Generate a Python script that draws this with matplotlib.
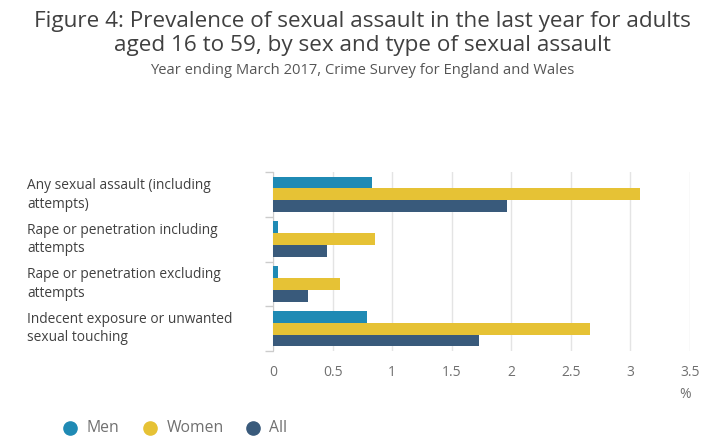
import matplotlib
matplotlib.use("Agg")
import matplotlib.pyplot as plt
import numpy as np
from matplotlib.lines import Line2D

categories = ["Any sexual assault (including\nattempts)",
              "Rape or penetration including\nattempts",
              "Rape or penetration excluding\nattempts",
              "Indecent exposure or unwanted\nsexual touching"]
series_names = ["Men", "Women", "All"]
men = [0.83, 0.04, 0.04, 0.79]
women = [3.08, 0.86, 0.56, 2.66]
all_ = [1.96, 0.45, 0.29, 1.73]
xticks = [0, 0.5, 1, 1.5, 2, 2.5, 3, 3.5]
xtick_labels = ["0", "0.5", "1", "1.5", "2", "2.5", "3", "3.5"]

colors = ["#1f8ab4", "#e6c235", "#395a7b"]
text_col = "#404040"
grey = "#707070"

plt.rcParams['font.family'] = ['Open Sans', 'DejaVu Sans']

fig = plt.figure(figsize=(7.25, 4.41), dpi=100)
W, H = 725, 441
ax = fig.add_axes([273 / W, 1 - 351 / H, (690 - 273) / W, (351 - 172) / H])

n = len(categories)
y = np.arange(n)
bh = 0.265
for i, (vals, c) in enumerate(zip([men, women, all_], colors)):
    ax.barh(y + (i - 1) * bh, vals, height=bh, color=c, zorder=3)

ax.set_xlim(0, 3.5)
ax.set_ylim(n - 0.5, -0.5)
ax.set_xticks(xticks)
ax.set_xticklabels(xtick_labels, color=grey, fontsize=10)
ax.xaxis.grid(True, color="#e4e4e4", lw=1, zorder=0)
ax.tick_params(axis='x', length=0, pad=10)
ax.set_yticks(np.arange(n + 1) - 0.5, minor=False)
ax.set_yticklabels([])
ax.tick_params(axis='y', length=6, color="#cccccc", width=1)
for sp in ["top", "right", "bottom"]:
    ax.spines[sp].set_visible(False)
ax.spines["left"].set_color("#cccccc")

for i, cat in enumerate(categories):
    fig.text(27 / W, 1 - (195 + i * 44.5) / H, cat, ha="left", va="center",
             fontsize=9.9, color=text_col, linespacing=1.3)

fig.text(685 / W, 1 - 394 / H, "%", ha="center", va="center", fontsize=10, color=grey)

fig.text(0.5, 1 - 21 / H, "Figure 4: Prevalence of sexual assault in the last year for adults",
         ha="center", va="center", fontsize=16.2, color=text_col)
fig.text(0.5, 1 - 45 / H, "aged 16 to 59, by sex and type of sexual assault",
         ha="center", va="center", fontsize=16.2, color=text_col)
fig.text(0.5, 1 - 71 / H, "Year ending March 2017, Crime Survey for England and Wales",
         ha="center", va="center", fontsize=10.6, color="#555555")

# legend
lx = [70, 150, 253]
tx = [86, 167, 269]
for x0, x1, name, c in zip(lx, tx, series_names, colors):
    fig.add_artist(Line2D([x0 / W], [1 - 428 / H], marker='o', markersize=9.5,
                          color=c, transform=fig.transFigure))
    fig.text(x1 / W, 1 - 428 / H, name, ha="left", va="center",
             fontsize=11.3, color=grey)

fig.savefig("out.png", dpi=100, facecolor="white")
